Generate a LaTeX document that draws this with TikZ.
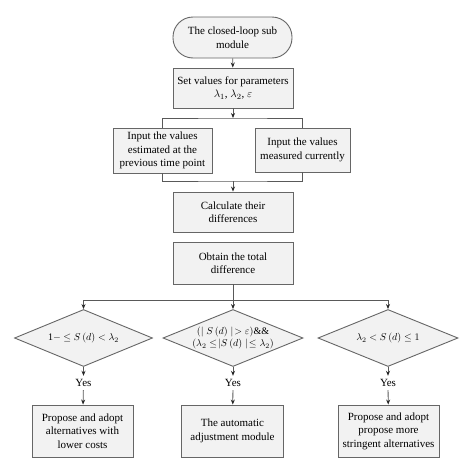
\documentclass[tikz,border=0pt]{standalone}
\usepackage{fontspec}
\setmainfont{Liberation Serif}
\usetikzlibrary{shapes.geometric,arrows.meta}

\begin{document}
\begin{tikzpicture}[x=1pt,y=-1pt,
  every node/.style={font=\fontsize{11}{13.5}\selectfont},
  box/.style={draw=black!60,fill=black!5,line width=0.9pt,align=center,inner sep=1pt},
  term/.style={box,rounded corners=20pt},
  cond/.style={draw=black!60,fill=black!5,line width=0.9pt,diamond,align=center,
    inner sep=0pt,shape aspect=2.4,minimum width=138pt,minimum height=57pt,
    font=\fontsize{10}{12.5}\selectfont},
  line/.style={draw=black!65,line width=0.8pt},
  arr/.style={line,-{Stealth[length=5pt,width=4pt,color=black!85]}}]
            \fill[white] (0,0) rectangle (474,474);
            \useasboundingbox (0,0) rectangle (474,474);
            % top part
            \node[term,minimum width=119pt,minimum height=41pt] (start) at (232.5,37.5) {The closed-loop sub\\module};
            \node[box,minimum width=120pt,minimum height=40pt] (param) at (233,88) {Set values for parameters\\$\lambda_1$, $\lambda_2$, $\varepsilon$};
            \node[box,minimum width=99pt,minimum height=45pt] (est) at (162.5,150.5) {Input the values\\estimated at the\\previous time point};
            \node[box,minimum width=95pt,minimum height=44pt] (meas) at (302.5,150) {Input the values\\measured currently};
            \node[box,minimum width=120pt,minimum height=40pt] (calc) at (233,212) {Calculate their\\differences};
            \node[box,minimum width=120pt,minimum height=42pt] (total) at (233,263) {Obtain the total\\difference};
            \coordinate (split) at (233,118);
            \coordinate (join) at (233,181);
            \coordinate (branch) at (233,300);
            % conditions
            \node[cond] (c1) at (83.5,338) {1$-$ $\leq S\,(d) < \lambda_2$};
            \node[cond,minimum width=140pt] (c2) at (233,338) {$(|\;S\,(d)\;|\!> \varepsilon)$\&\&\\$(\lambda_2 \leq\!|S\,(d)\;|\!\leq \lambda_2)$};
            \node[cond,minimum width=140pt] (c3) at (388,338) {$\lambda_2 < S\,(d) \leq 1$};
            \node (yes1) at (83.5,383) {Yes};
            \node (yes2) at (233,383) {Yes};
            \node (yes3) at (388,383) {Yes};
            % results
            \node[box,minimum width=101pt,minimum height=52pt] (r1) at (82.5,431) {Propose and adopt\\alternatives with\\lower costs};
            \node[box,minimum width=102pt,minimum height=52pt] (r2) at (232.5,431) {The automatic\\adjustment module};
            \node[box,minimum width=101pt,minimum height=52pt] (r3) at (388.5,431) {Propose and adopt\\propose more\\stringent alternatives};
            % connectors
            \draw[arr] (start) -- (param);
            \draw[arr] (param) -- (split);
            \draw[line] (est.north) |- (split) -| (meas.north);
            \draw[line] (est.south) |- (join) -| (meas.south);
            \draw[arr] (join) -- (calc);
            \draw[arr] (total) -- (c2);
            \draw[line] (c1.north |- branch) -- (c3.north |- branch);
            \draw[arr] (c1.north |- branch) -- (c1);
            \draw[arr] (c3.north |- branch) -- (c3);
            \draw[arr] (c1) -- (yes1);
            \draw[arr] (c2) -- (yes2);
            \draw[arr] (c3) -- (yes3);
            \draw[arr] (yes1) -- (r1);
            \draw[arr] (yes2) -- (r2);
            \draw[arr] (yes3) -- (r3);
\end{tikzpicture}
\end{document}
